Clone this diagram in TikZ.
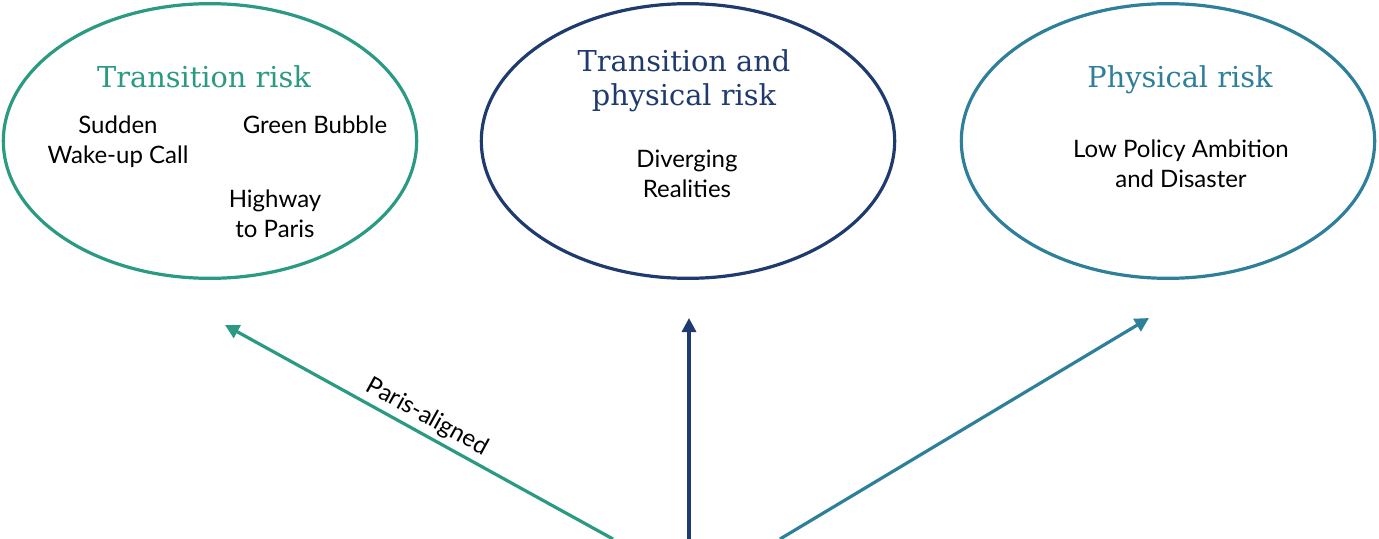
\documentclass[tikz,border=0pt]{standalone}
\usepackage{fontspec}
\setmainfont{Lato}
\newfontfamily\headfont{DejaVu Serif}
\usetikzlibrary{shapes.geometric, arrows.meta}
\definecolor{transgreen}{HTML}{2A9A82}
\definecolor{bothblue}{HTML}{1E3A6E}
\definecolor{physblue}{HTML}{2D7F9A}

\begin{document}
\begin{tikzpicture}[x=0.75pt, y=-0.75pt,
    riskbubble/.style={draw, ellipse, line width=2.4pt, inner sep=0pt,
                       minimum width=310pt, minimum height=206pt},
    heading/.style={font=\headfont\fontsize{21.6}{25.5}\selectfont, align=center, anchor=base},
    scenario/.style={font=\fontsize{18}{22.5}\selectfont, align=center, anchor=base},
    pathway/.style={line width=2.4pt, -{Triangle[length=10.5pt, width=10.5pt]}}]
\useasboundingbox (0,0) rectangle (1379,539);
% bubbles
\node[riskbubble, draw=transgreen] (trans) at (210,141) {};
\node[riskbubble, draw=bothblue]   (both)  at (688,141) {};
\node[riskbubble, draw=physblue]   (phys)  at (1168,141) {};
% headings (base = last line)
\node[heading, text=transgreen] (transhead) at (204,87) {Transition risk};
\node[heading, text=bothblue]   (bothhead)  at (684,105) {Transition and\\physical risk};
\node[heading, text=physblue]   (physhead)  at (1180,87) {Physical risk};
% scenarios
\node[scenario] (sudden)  at (118,163) {Sudden\\Wake-up Call};
\node[scenario] (bubble)  at (315,133) {Green Bubble};
\node[scenario] (highway) at (275,237) {Highway\\to Paris};
\node[scenario] (diverge) at (687,197) {Diverging\\Realities};
\node[scenario] (lowpol)  at (1181,187) {Low Policy Ambition\\and Disaster};
% pathways
\coordinate (lfoot) at (613,539);  \coordinate (ltip) at (225,325);
\coordinate (mfoot) at (689,539);  \coordinate (mtip) at (689,318);
\coordinate (rfoot) at (780,539);  \coordinate (rtip) at (1149,318);
\draw[pathway, transgreen] (lfoot) -- (ltip)
      node[pos=0.5, above, sloped, text=black, font=\fontsize{18}{21}\selectfont] (paris) {Paris-aligned};
\draw[pathway, bothblue] (mfoot) -- (mtip);
\draw[pathway, physblue] (rfoot) -- (rtip);
\end{tikzpicture}
\end{document}
